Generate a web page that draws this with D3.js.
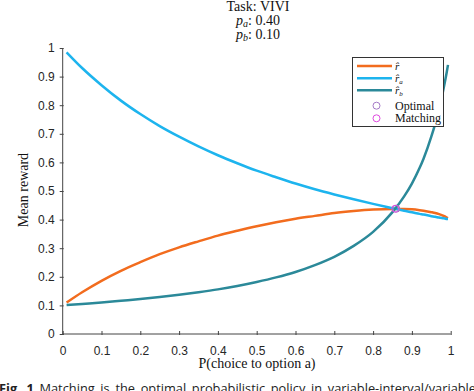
<!DOCTYPE html>
<html><head><meta charset="utf-8">
<script src="https://cdn.jsdelivr.net/npm/d3@7"></script>
<style>body{margin:0;background:#fff}svg{display:block}</style>
</head><body>
<script>
const pChoice = [0.01,0.05,0.1,0.15,0.2,0.25,0.3,0.35,0.4,0.45,0.5,0.55,0.6,0.65,0.7,0.75,0.8,0.85,0.88,0.9,0.92,0.93,0.95,0.96,0.97,0.98,0.985,0.99,0.993];
const rMean = [0.110,0.146,0.186,0.221,0.251,0.279,0.303,0.324,0.344,0.361,0.377,0.391,0.403,0.413,0.423,0.430,0.435,0.437,0.437,0.436,0.433,0.431,0.426,0.423,0.419,0.414,0.411,0.407,0.405];
const rA = [0.985,0.930,0.870,0.816,0.769,0.727,0.690,0.656,0.625,0.597,0.571,0.548,0.526,0.506,0.488,0.471,0.455,0.440,0.431,0.426,0.420,0.418,0.412,0.410,0.407,0.405,0.404,0.402,0.402];
const rB = [0.101,0.105,0.110,0.116,0.122,0.129,0.137,0.146,0.156,0.168,0.182,0.198,0.217,0.241,0.270,0.308,0.357,0.426,0.481,0.526,0.581,0.613,0.690,0.735,0.787,0.847,0.881,0.917,0.941];
const optimalPoint = [0.86, 0.438];
const matchingPoint = [0.857, 0.438];
const xTicks = [0,0.1,0.2,0.3,0.4,0.5,0.6,0.7,0.8,0.9,1];
const yTicks = [0,0.1,0.2,0.3,0.4,0.5,0.6,0.7,0.8,0.9,1];
const taskName = "VIVI";
const pA = "0.40", pB = "0.10";

const W = 474, H = 391;
const svg = d3.select("body").append("svg").attr("width", W).attr("height", H);
const x = d3.scaleLinear().domain([0,1]).range([62.7, 450.7]);
const y = d3.scaleLinear().domain([0,1]).range([334, 48]);
const serif = "'Liberation Serif', 'Times New Roman', serif";
const sans = "'Liberation Sans', Arial, sans-serif";

// axes
const xAxis = svg.append("g").attr("transform", `translate(0,${y(0)})`)
  .call(d3.axisBottom(x).tickValues(xTicks).tickSize(3).tickPadding(9).tickFormat(d => d3.format("")(+d.toFixed(1))));
const yAxis = svg.append("g").attr("transform", `translate(${x(0)},0)`)
  .call(d3.axisLeft(y).tickValues(yTicks).tickSize(3).tickPadding(5).tickFormat(d => d3.format("")(+d.toFixed(1))));
[xAxis, yAxis].forEach(g => {
  g.select(".domain").attr("stroke", "#444");
  g.selectAll(".tick line").attr("stroke", "#444");
  g.selectAll("text").attr("fill", "#262626").style("font-family", sans).style("font-size", "12px");
});
xAxis.select(".domain").attr("d", `M${x(0)},0H${x(1)}`);
yAxis.select(".domain").attr("d", `M0,${y(0)}V${y(1)}`);
xAxis.selectAll(".tick line").attr("y1", -3).attr("y2", 1);
yAxis.selectAll(".tick line").attr("x1", -3).attr("x2", 1);

// lines
const series = [
  {vals: rMean, color: "#f26c1e"},
  {vals: rA, color: "#1db4ee"},
  {vals: rB, color: "#2b8999"}
];
const line = d3.line().x(d => x(d[0])).y(d => y(d[1])).curve(d3.curveMonotoneX);
series.forEach(s => {
  svg.append("path").datum(pChoice.map((p,i) => [p, s.vals[i]]))
    .attr("d", line).attr("fill", "none").attr("stroke", s.color).attr("stroke-width", 2.5);
});
// markers
svg.append("circle").attr("cx", x(optimalPoint[0])).attr("cy", y(optimalPoint[1])).attr("r", 3.5)
  .attr("fill", "none").attr("stroke", "#a57ac8").attr("stroke-width", 1);
svg.append("circle").attr("cx", x(matchingPoint[0])).attr("cy", y(matchingPoint[1])).attr("r", 3.5)
  .attr("fill", "none").attr("stroke", "#e04ae0").attr("stroke-width", 1);

// title
const t = svg.append("g").style("font-family", serif).style("font-size", "14px").attr("fill", "#111").attr("text-anchor", "middle");
t.append("text").attr("x", 258).attr("y", 11).text("Task: " + taskName);
const ta = t.append("text").attr("x", 258).attr("y", 25);
ta.append("tspan").style("font-style", "italic").text("p");
ta.append("tspan").style("font-style", "italic").style("font-size", "10px").attr("dy", 2).text("a");
ta.append("tspan").attr("dy", -2).text(": " + pA);
const tb = t.append("text").attr("x", 258).attr("y", 38.5);
tb.append("tspan").style("font-style", "italic").text("p");
tb.append("tspan").style("font-style", "italic").style("font-size", "10px").attr("dy", 2).text("b");
tb.append("tspan").attr("dy", -2).text(": " + pB);

// axis labels
svg.append("text").attr("x", 257).attr("y", 368).attr("text-anchor", "middle")
  .style("font-family", serif).style("font-size", "14px").attr("fill", "#111").text("P(choice to option a)");
svg.append("text").attr("transform", "translate(28,190) rotate(-90)").attr("text-anchor", "middle")
  .style("font-family", serif).style("font-size", "14px").attr("fill", "#111").text("Mean reward");

// legend
const lg = svg.append("g");
lg.append("rect").attr("x", 352.5).attr("y", 57.5).attr("width", 91).attr("height", 69)
  .attr("fill", "#fff").attr("stroke", "#333").attr("stroke-width", 1);
const legItems = [
  {sub: "", color: "#f26c1e", y: 66},
  {sub: "a", color: "#1db4ee", y: 78.3},
  {sub: "b", color: "#2b8999", y: 90.3}
];
legItems.forEach(it => {
  lg.append("line").attr("x1", 357).attr("x2", 392).attr("y1", it.y).attr("y2", it.y)
    .attr("stroke", it.color).attr("stroke-width", 2.5);
  const tx = lg.append("text").attr("x", 395).attr("y", it.y + 3.5).style("font-family", serif).style("font-size", "11px").attr("fill", "#111");
  tx.append("tspan").style("font-style", "italic").text("r\u0302");
  if (it.sub) tx.append("tspan").style("font-style", "italic").style("font-size", "7px").attr("dy", 2).text(it.sub);
});
[{label: "Optimal", color: "#a57ac8", y: 105.7}, {label: "Matching", color: "#e04ae0", y: 118.3}].forEach(it => {
  lg.append("circle").attr("cx", 376.5).attr("cy", it.y).attr("r", 3.5).attr("fill", "none").attr("stroke", it.color).attr("stroke-width", 1);
  lg.append("text").attr("x", 395).attr("y", it.y + 4).style("font-family", serif).style("font-size", "12px").attr("fill", "#111").text(it.label);
});

// caption (justified line, cut off at bottom as in the reference)
const capWords = "Matching is the optimal probabilistic policy in variable-interval/variable";
const cap = svg.append("text").attr("x", -1).attr("y", 392.5).style("font-family", "'Open Sans', 'Noto Sans', sans-serif").style("font-size", "12.8px").attr("fill", "#222");
cap.append("tspan").style("font-weight", "bold").text("Fig. 1");
cap.append("tspan").text(" " + capWords);
const natural = cap.node().getComputedTextLength();
const nSpaces = ("Fig. 1 " + capWords).split(" ").length - 1;
const extra = Math.max(0, (477 - natural) / nSpaces);
cap.style("word-spacing", extra + "px");
</script>
</body></html>
